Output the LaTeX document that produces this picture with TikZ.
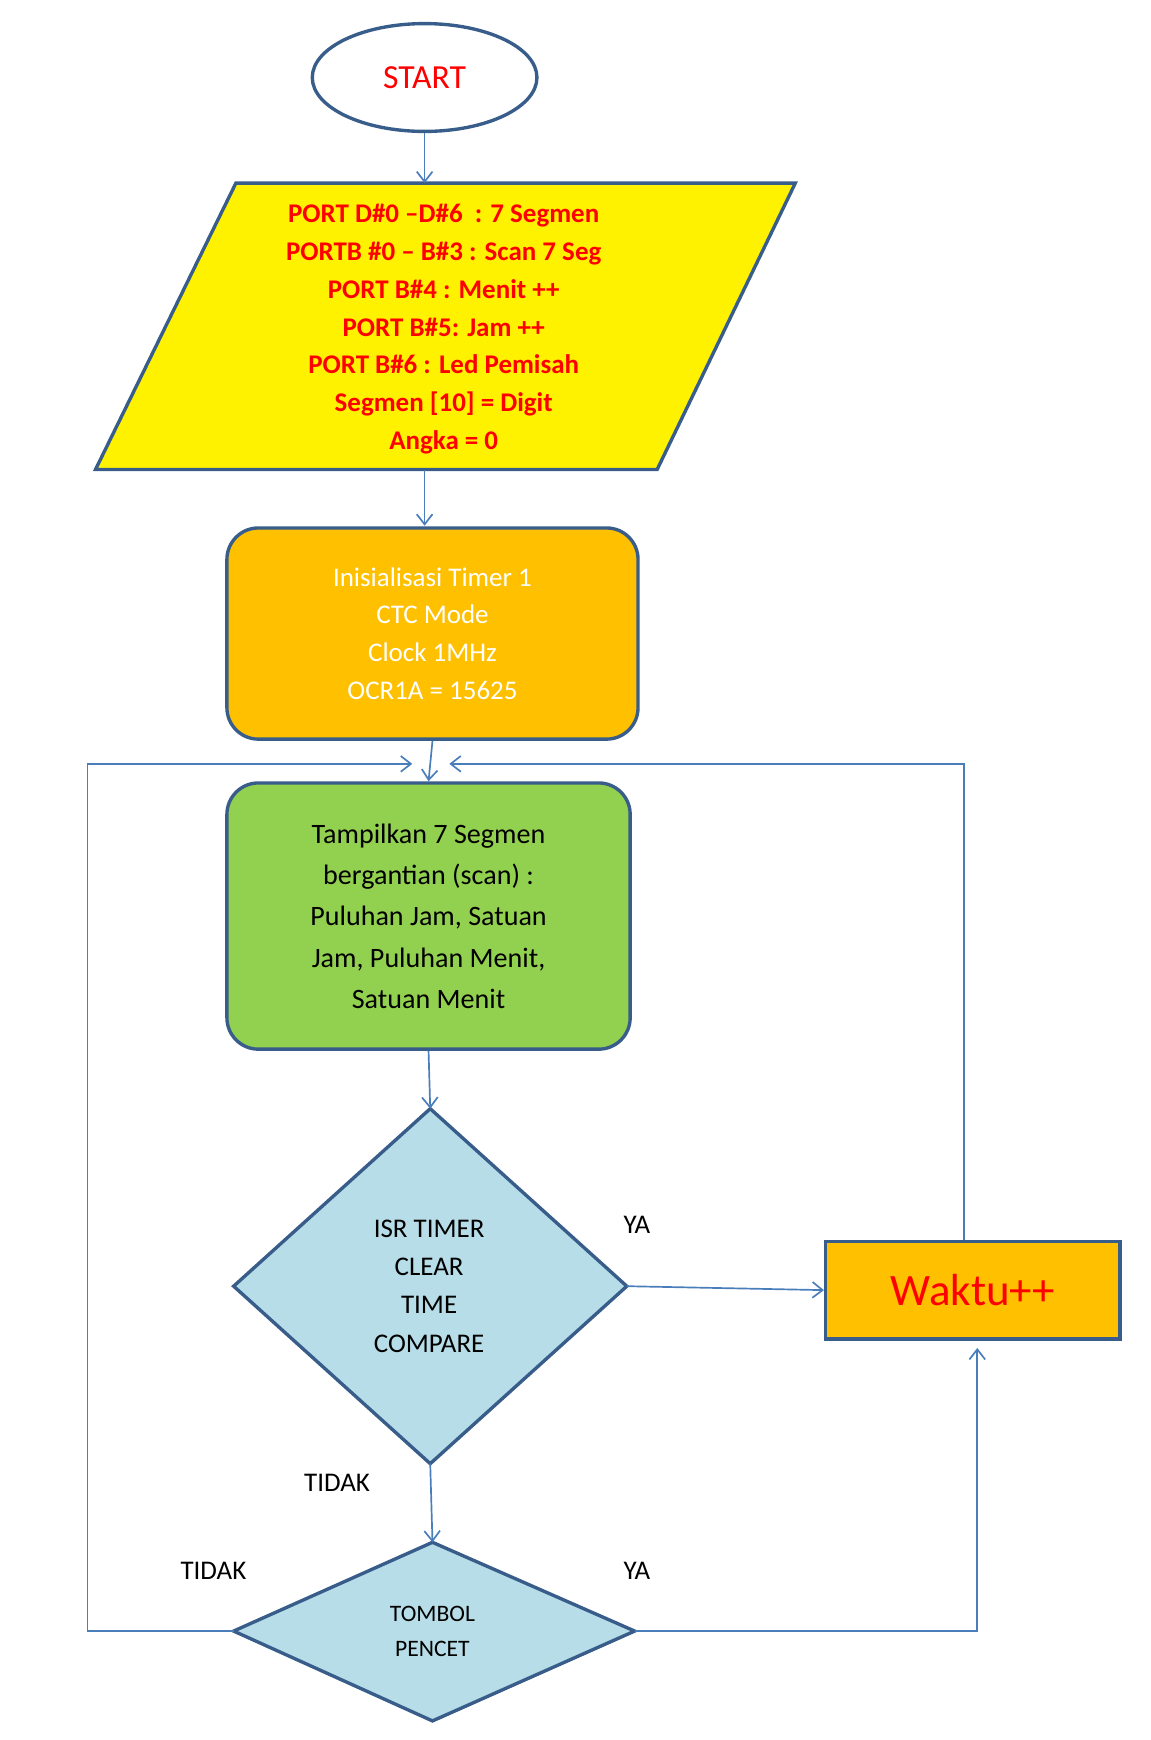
\documentclass[tikz,border=0pt]{standalone}
\usepackage{fontspec}
\setmainfont{Carlito}
\usetikzlibrary{shapes.geometric,arrows.meta}
\definecolor{bd}{HTML}{385D8A}
\definecolor{ln}{HTML}{4A7EBB}
\definecolor{orng}{HTML}{FFC000}
\definecolor{grn}{HTML}{92D050}
\definecolor{lblue}{HTML}{B7DEE8}
\begin{document}
\begin{tikzpicture}[x=1pt,y=-1pt,
 box/.style={draw=bd,line width=3pt},
 conn/.style={draw=ln,line width=1.5pt,-{Straight Barb[length=9pt,width=14pt]}},
 lbl/.style={font=\fontsize{24}{24}\selectfont}]
\useasboundingbox (0,0) rectangle (1024,1549);
\node[box,ellipse,minimum width=200,minimum height=96,inner sep=0,text=red,font=\fontsize{30}{30}\selectfont] (start) at (378,69) {START};
\draw[box,fill=yellow] (210,163) coordinate (pa) -- (708,163) -- (585,418) -- (85,418) -- cycle;
\coordinate (ptop) at (378,163); \coordinate (pbot) at (378,418);
\node[text=red,font=\bfseries\fontsize{24}{33.7}\selectfont,align=center] (io) at (395,293) {PORT D\#0 --D\#6 \ : 7 Segmen\\PORTB \#0 -- B\#3 : Scan 7 Seg\\PORT B\#4 : Menit ++\\PORT B\#5: Jam ++\\PORT B\#6 : Led Pemisah\\Segmen [10] = Digit\\Angka = 0};
\node[box,fill=orng,rounded corners=28,minimum width=366,minimum height=188,text=white,align=center,font=\fontsize{24}{33.7}\selectfont] (init) at (385,564) {Inisialisasi Timer 1\\CTC Mode\\Clock 1MHz\\OCR1A = 15625};
\node[box,fill=grn,rounded corners=28,minimum width=359,minimum height=237,align=center,font=\fontsize{25}{36.8}\selectfont] (disp) at (381.5,815.5) {Tampilkan 7 Segmen\\bergantian (scan) :\\Puluhan Jam, Satuan\\Jam, Puluhan Menit,\\Satuan Menit};
\draw[box,fill=lblue] (383,987) coordinate (d1t) -- (558,1145) coordinate (d1r) -- (383,1303) coordinate (d1b) -- (208,1145) -- cycle;
\node[align=center,font=\fontsize{24}{34}\selectfont] (d1) at (382,1145) {ISR TIMER\\CLEAR\\TIME\\COMPARE};
\node[box,fill=orng,minimum width=262,minimum height=87,inner sep=0,text=red,font=\fontsize{40}{40}\selectfont] (wak) at (866,1148.5) {Waktu++};
\draw[box,fill=lblue] (385,1373) coordinate (d2t) -- (565,1452) coordinate (d2r) -- (385,1532) -- (208,1452) coordinate (d2l) -- cycle;
\node[align=center,font=\fontsize{21}{31}\selectfont] (d2) at (385,1452) {TOMBOL\\PENCET};
\coordinate (m1) at (378,680);
\coordinate (jr) at (400,680);
\coordinate (jl) at (367,680);
\coordinate (tr) at (858,680);
\coordinate (bl) at (78,1452);
\coordinate (tl) at (78,680);
\coordinate (br) at (870,1452);
\coordinate (wb) at (870,1200);
\draw[conn] (start.south) -- (ptop);
\draw[conn] (pbot) -- (378,468);
\draw[conn] (init.south) -- (disp.north);
\draw[conn] (disp.south) -- (d1t);
\draw[conn] (d1r) -- (wak.west);
\draw[conn] (wak.north -| tr) -- (tr) -- (jr);
\draw[conn] (d1b) -- (d2t);
\draw[conn] (d2r) -- (br) -- (wb);
\draw[conn] (d2l) -- (bl) -- (tl) -- (jl);
\node[lbl] (ya1) at (567,1090) {YA};
\node[lbl] (ti1) at (300,1320) {TIDAK};
\node[lbl] (ya2) at (567,1398) {YA};
\node[lbl] (ti2) at (190,1398) {TIDAK};
\end{tikzpicture}
\end{document}
